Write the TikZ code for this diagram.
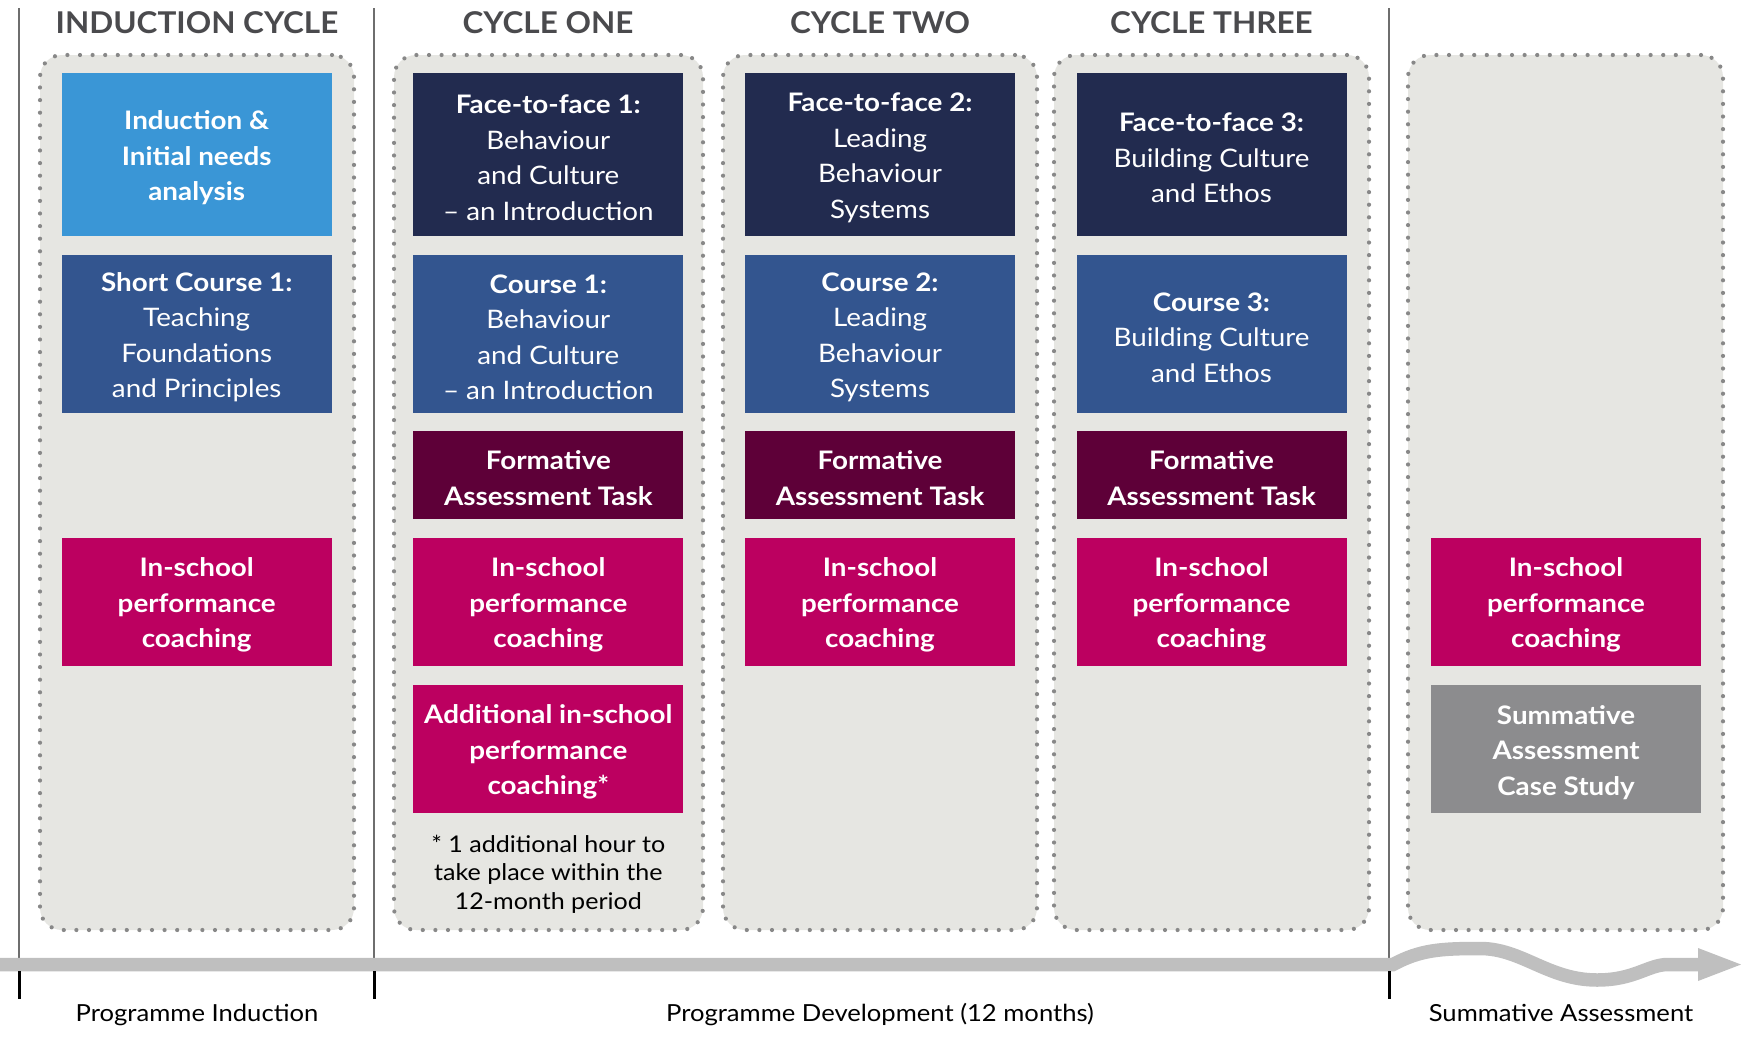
\documentclass[tikz,border=0pt]{standalone}
\usepackage{fontspec}
\setmainfont{Lato}[FakeStretch=1.09]
\newfontfamily\titlelato{Lato}[FakeStretch=1.05]
\definecolor{panelgray}{HTML}{E6E6E2}
\definecolor{dotgray}{HTML}{888888}
\definecolor{lightblue}{HTML}{3A96D6}
\definecolor{navyblue}{HTML}{222B4F}
\definecolor{midblue}{HTML}{33558F}
\definecolor{maroonbox}{HTML}{5E0038}
\definecolor{coachpink}{HTML}{BC0060}
\definecolor{sumgray}{HTML}{8C8C8E}
\definecolor{bandgray}{HTML}{BFBFBF}
\definecolor{linegray}{HTML}{6E6E6E}
\definecolor{titlegray}{HTML}{4A4A4D}
\newcommand\boxfont{\fontsize{25.5pt}{35.5pt}\selectfont}
\newcommand\titlefont{\titlelato\fontsize{30pt}{36pt}\selectfont\bfseries}
\newcommand\labelfont{\fontsize{23.5pt}{28pt}\selectfont}
\newcommand\notefont{\fontsize{23pt}{28.2pt}\selectfont}
% box: name, style, colour, x, y, text
\newcommand\pbx[6]{%
  \node[#2, fill=#3] (#1) at (#4,#5) {};
  \node[btext, #2text] (#1t) at ([yshift=-3.3pt]#1.center) {#6};}
\begin{document}
\begin{tikzpicture}[x=1pt,y=-1pt,
  panel/.style={fill=panelgray, draw=dotgray, line width=4.2pt, line cap=round,
    dash pattern=on 0pt off 12.6pt, rounded corners=22pt, minimum height=875pt, inner sep=0pt},
  pbox/.style={minimum width=270pt, inner sep=0pt},
  btext/.style={inner sep=0pt, align=center, text=white, font=\boxfont},
  rowA/.style={pbox, minimum height=163pt},
  rowB/.style={pbox, minimum height=158pt},
  rowC/.style={pbox, minimum height=88pt},
  rowD/.style={pbox, minimum height=128pt},
  rowE/.style={pbox, minimum height=128pt},
  rowAtext/.style={}, rowBtext/.style={}, rowCtext/.style={font=\boxfont\bfseries},
  rowDtext/.style={font=\boxfont\bfseries}, rowEtext/.style={font=\boxfont\bfseries},
  boldA/.style={rowA}, boldAtext/.style={font=\boxfont\bfseries},
  ctitle/.style={anchor=base, font=\titlefont, text=titlegray, inner sep=0pt},
  blabel/.style={anchor=base, font=\labelfont, text=black, inner sep=0pt},
  vline/.style={draw=linegray, line width=2pt},
  tick/.style={draw=black, line width=3pt},
  band/.style={draw=bandgray, line width=13.5pt}
]
\useasboundingbox (0,0) rectangle (1742,1052);

% separators
\draw[vline] (19,8) -- (19,958);
\draw[vline] (374,8) -- (374,958);
\draw[vline] (1389,8) -- (1389,958);

% titles
\node[ctitle] (t0) at (197,33.5) {INDUCTION CYCLE};
\node[ctitle] (t1) at (548,33.5) {CYCLE ONE};
\node[ctitle] (t2) at (880,33.5) {CYCLE TWO};
\node[ctitle] (t3) at (1211.5,33.5) {CYCLE THREE};

% panels
\node[panel, minimum width=314pt] (p0) at (197,492.5) {};
\node[panel, minimum width=309pt] (p1) at (548.5,492.5) {};
\node[panel, minimum width=314pt] (p2) at (880,492.5) {};
\node[panel, minimum width=315pt] (p3) at (1211.5,492.5) {};
\node[panel, minimum width=315pt] (p4) at (1565.5,492.5) {};

% induction column
\pbx{i1}{boldA}{lightblue}{196.7}{154.5}{Induction \&\\Initial needs\\analysis}
\pbx{i2}{rowB}{midblue}{196.7}{334}{\textbf{Short Course 1:}\\Teaching\\Foundations\\and Principles}
\pbx{i4}{rowD}{coachpink}{196.7}{602}{In-school\\performance\\coaching}

% cycle one
\pbx{a1}{rowA}{navyblue}{548.3}{154.5}{\textbf{Face-to-face 1:}\\Behaviour\\and Culture\\-- an Introduction}
\pbx{a2}{rowB}{midblue}{548.3}{334}{\textbf{Course 1:}\\Behaviour\\and Culture\\-- an Introduction}
\pbx{a3}{rowC}{maroonbox}{548.3}{475}{Formative\\Assessment Task}
\pbx{a4}{rowD}{coachpink}{548.3}{602}{In-school\\performance\\coaching}
\pbx{a5}{rowE}{coachpink}{548.3}{749}{Additional in-school\\performance\\coaching*}
\node[align=center, font=\notefont, inner sep=0pt, anchor=base] (note) at (548.3,909) {* 1 additional hour to\\take place within the\\12-month period};

% cycle two
\pbx{b1}{rowA}{navyblue}{880}{154.5}{\textbf{Face-to-face 2:}\\Leading\\Behaviour\\Systems}
\pbx{b2}{rowB}{midblue}{880}{334}{\textbf{Course 2:}\\Leading\\Behaviour\\Systems}
\pbx{b3}{rowC}{maroonbox}{880}{475}{Formative\\Assessment Task}
\pbx{b4}{rowD}{coachpink}{880}{602}{In-school\\performance\\coaching}

% cycle three
\pbx{c1}{rowA}{navyblue}{1211.5}{154.5}{\textbf{Face-to-face 3:}\\Building Culture\\and Ethos}
\pbx{c2}{rowB}{midblue}{1211.5}{334}{\textbf{Course 3:}\\Building Culture\\and Ethos}
\pbx{c3}{rowC}{maroonbox}{1211.5}{475}{Formative\\Assessment Task}
\pbx{c4}{rowD}{coachpink}{1211.5}{602}{In-school\\performance\\coaching}

% summative
\pbx{s4}{rowD}{coachpink}{1566}{602}{In-school\\performance\\coaching}
\pbx{s5}{rowE}{sumgray}{1566}{749}{Summative\\Assessment\\Case Study}

% timeline band
\coordinate (tl0) at (0,964.5);
\coordinate (tl1) at (1393,964.5);
\coordinate (tl2) at (1702,964.5);
\draw[band] (tl0) -- (tl1) .. controls (1420,950) and (1440,948.5) .. (1480,948.5)
  .. controls (1522,948.5) and (1548,980) .. (1597,980)
  .. controls (1635,980) and (1648,964.5) .. (1668,964.5) -- (tl2);
\fill[bandgray] (1698,948) -- (1741,964.5) -- (1698,981) -- cycle;

% ticks
\draw[tick] (19,971) -- (19,999);
\draw[tick] (374,971) -- (374,999);
\draw[tick] (1389,971) -- (1389,999);

% bottom labels
\node[blabel] (l0) at (197,1021) {Programme Induction};
\node[blabel] (l1) at (880,1021) {Programme Development (12 months)};
\node[blabel] (l2) at (1561,1021) {Summative Assessment};
\end{tikzpicture}
\end{document}
